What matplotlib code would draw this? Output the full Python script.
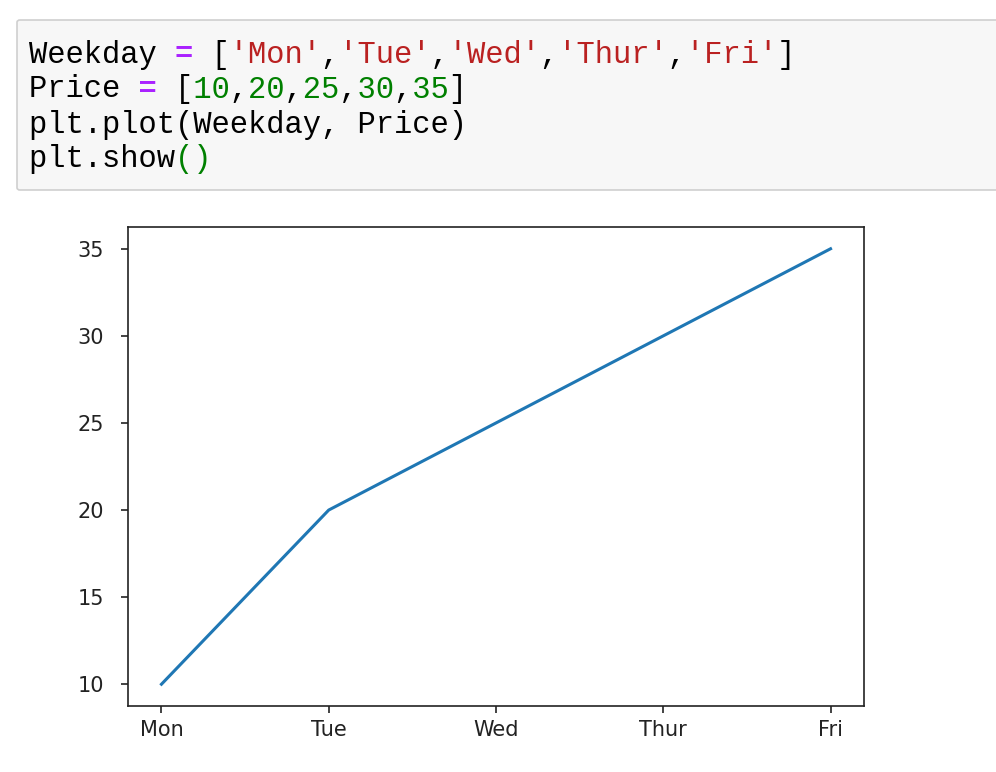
import matplotlib.pyplot as plt
from matplotlib.patches import FancyBboxPatch

plt.rcParams["font.family"] = ["DejaVu Sans"]

# data shown in the notebook cell
Weekday = ['Mon', 'Tue', 'Wed', 'Thur', 'Fri']
Price = [10, 20, 25, 30, 35]

W, H = 996, 772
fig = plt.figure(figsize=(W / 100, H / 100), dpi=100, facecolor="white")

# pixel coords -> figure fraction
def fx(px):
    return px / W

def fy(py):
    return 1 - py / H

# code cell background
cell = FancyBboxPatch(
    (fx(17), fy(190)), fx(1100) - fx(17), fy(20) - fy(190),
    boxstyle="round,pad=0,rounding_size=0.003",
    transform=fig.transFigure, facecolor="#f7f7f7", edgecolor="#cfcfcf",
    linewidth=1.2, zorder=0,
)
fig.patches.append(cell)

BLACK = "#000000"
PURPLE = "#aa22ff"
RED = "#ba2121"
GREEN = "#008000"

code_lines = [
    [("Weekday ", BLACK), ("=", PURPLE), (" [", BLACK), ("'Mon'", RED), (",", BLACK),
     ("'Tue'", RED), (",", BLACK), ("'Wed'", RED), (",", BLACK), ("'Thur'", RED),
     (",", BLACK), ("'Fri'", RED), ("]", BLACK)],
    [("Price ", BLACK), ("=", PURPLE), (" [", BLACK), ("10", GREEN), (",", BLACK),
     ("20", GREEN), (",", BLACK), ("25", GREEN), (",", BLACK), ("30", GREEN),
     (",", BLACK), ("35", GREEN), ("]", BLACK)],
    [("plt.plot(Weekday, Price)", BLACK)],
    [("plt.show", BLACK), ("()", GREEN)],
]
baselines = [63, 97.5, 132.5, 167]

# monospace: one layer per colour, other chars blanked with spaces
for segs, base in zip(code_lines, baselines):
    for col in {c for _, c in segs}:
        layer = "".join(s if c == col else " " * len(s) for s, c in segs)
        fig.text(fx(29), fy(base), layer, color=col, fontsize=22,
                 family="Liberation Mono", va="baseline", ha="left",
                 fontweight="bold" if col == PURPLE else "normal")

# the plot output
ax = fig.add_axes([fx(128), fy(706), fx(864) - fx(128), fy(227) - fy(706)])
ax.plot(Weekday, Price, color="#1f77b4", linewidth=2.2)
ax.set_yticks([10, 15, 20, 25, 30, 35])
for sp in ax.spines.values():
    sp.set_linewidth(1.2)
    sp.set_color("#222222")
ax.tick_params(axis="both", labelsize=15, length=5.2, width=1.2,
               color="#222222", labelcolor="#222222")
ax.tick_params(axis="x", pad=5)
ax.tick_params(axis="y", pad=12)

fig.savefig("out.png", dpi=100, facecolor="white")
